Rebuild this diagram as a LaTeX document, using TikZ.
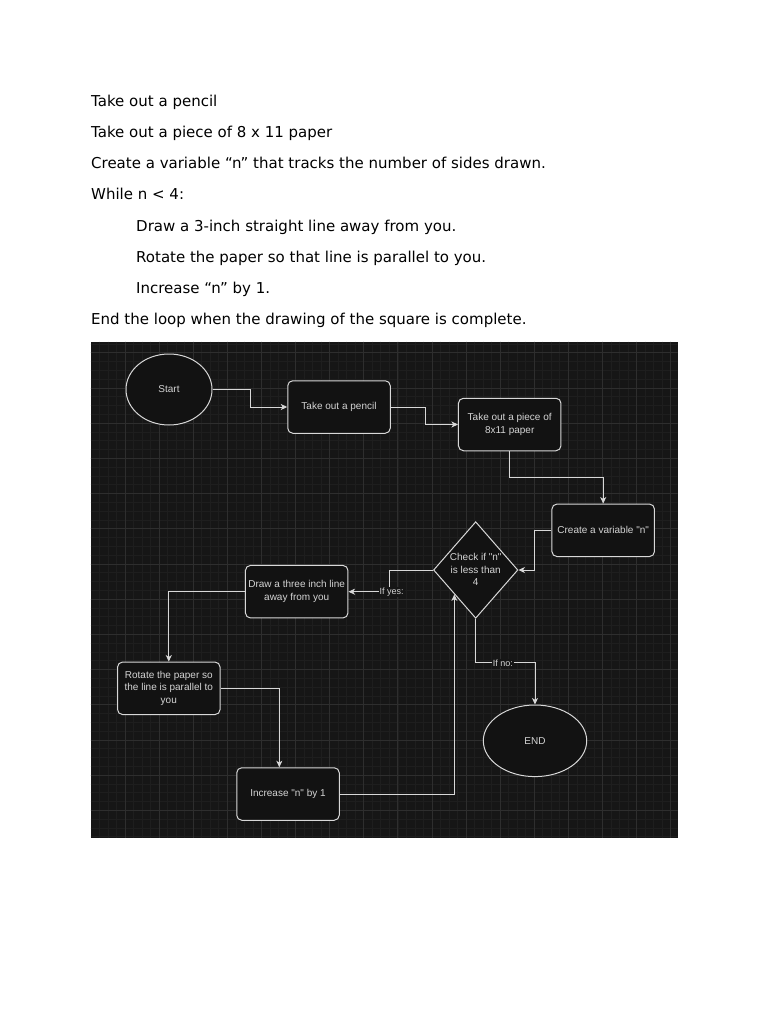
\documentclass[tikz,border=0pt]{standalone}
\usepackage{fontspec}
\setmainfont{DejaVu Sans}
\newfontfamily\dfont{Liberation Sans}
\usetikzlibrary{arrows.meta,shapes.geometric}
\definecolor{bgc}{HTML}{161616}
\definecolor{minorc}{HTML}{1E1E1E}
\definecolor{majorc}{HTML}{2E2E2E}
\definecolor{boxc}{HTML}{121212}
\definecolor{edgec}{HTML}{D8D8D8}
\definecolor{txtc}{HTML}{D4D4D4}
\begin{document}
\begin{tikzpicture}[x=1pt,y=-1pt,
  doc/.style={anchor=base west, inner sep=0pt, font=\fontsize{15}{18}\selectfont, text=black},
  box/.style={draw=edgec, fill=boxc, rounded corners=5pt, line width=1pt, minimum width=102.5pt, minimum height=52.5pt, align=center, text=txtc, font=\dfont\fontsize{10}{12.8}\selectfont, inner sep=1pt},
  term/.style={ellipse, draw=edgec, fill=boxc, line width=1pt, text=txtc, font=\dfont\fontsize{10}{12.8}\selectfont, inner sep=0pt},
  dec/.style={diamond, draw=edgec, fill=boxc, line width=1pt, minimum width=84.4pt, minimum height=96.6pt, inner sep=0pt},
  dtext/.style={align=center, text=txtc, font=\dfont\fontsize{10}{12.7}\selectfont, inner sep=0pt},
  flow/.style={draw=edgec, line width=0.9pt, -{Stealth[length=6.5pt,width=6pt,inset=1.8pt]}},
  lbl/.style={fill=bgc, text=txtc, font=\dfont\fontsize{9}{10}\selectfont, inner sep=1pt}]
\useasboundingbox (0,0) rectangle (768,1024);
\fill[white] (0,0) rectangle (768,1024);
% text above
\node[doc] (t1) at (91,106.7) {Take out a pencil};
\node[doc] (t2) at (91,137.8) {Take out a piece of 8 x 11 paper};
\node[doc] (t3) at (91,168.9) {Create a variable “n” that tracks the number of sides drawn.};
\node[doc] (t4) at (91,200) {While n < 4:};
\node[doc] (t5) at (136,231.1) {Draw a 3-inch straight line away from you.};
\node[doc] (t6) at (136,262.2) {Rotate the paper so that line is parallel to you.};
\node[doc] (t7) at (136,293.3) {Increase “n” by 1.};
\node[doc] (t8) at (91,324.4) {End the loop when the drawing of the square is complete.};
% diagram background and grid
\fill[bgc] (90.5,341.7) rectangle (677.5,838);
\begin{scope}
\clip (90.5,341.7) rectangle (677.5,838);
\foreach \k in {1,...,68} {
  \pgfmathsetmacro{\xx}{90.9+8.525*\k}
  \draw[minorc, line width=0.6pt] (\xx,341.7) -- (\xx,838);
}
\foreach \j in {-1,...,55} {
  \pgfmathsetmacro{\yy}{352.7+8.8*\j}
  \draw[minorc, line width=0.6pt] (90.5,\yy) -- (677.5,\yy);
}
\foreach \k in {1,...,17} {
  \pgfmathsetmacro{\xx}{90.9+34.1*\k}
  \draw[majorc, line width=0.8pt] (\xx,341.7) -- (\xx,838);
}
\foreach \j in {0,...,13} {
  \pgfmathsetmacro{\yy}{352.7+35.2*\j}
  \draw[majorc, line width=0.8pt] (90.5,\yy) -- (677.5,\yy);
}
\end{scope}
% nodes
\node[term, minimum width=86pt, minimum height=71pt] (start) at (169,389.5) {Start};
\node[box] (pencil) at (339,407) {Take out a pencil};
\node[box] (paper) at (509.7,424.5) {Take out a piece of\\8x11 paper};
\node[box] (var) at (603.2,530.3) {Create a variable "n"};
\node[dec] (d) at (475.7,570) {};
\node[dtext] (dt) at (475.7,569.5) {Check if "n"\\is less than\\4};
\node[box] (draw) at (296.7,591.7) {Draw a three inch line\\away from you};
\node[box] (rot) at (168.8,688.3) {Rotate the paper so\\the line is parallel to\\you};
\node[box] (inc) at (288,794) {Increase "n" by 1};
\node[term, minimum width=103.4pt, minimum height=71.6pt] (end) at (535,740.8) {END};
% connectors
\draw[flow] (start.east) -- ++(38.3,0) |- (pencil.west);
\draw[flow] (pencil.east) -- ++(35,0) |- (paper.west);
\draw[flow] (paper.south) -- ++(0,26.6) -| (var.north);
\draw[flow] (var.west) -- ++(-17.3,0) |- (d.east);
\draw[flow] (d.west) -- ++(-43.3,0) |- node[lbl, xshift=2pt]{If yes:} (draw.east);
\draw[flow] (draw.west) -| (rot.north);
\draw[flow] (rot.east) -| ([xshift=-8.7pt]inc.north);
\draw[flow] (inc.east) -| (d.south west);
\draw[flow] (d.south) -- ++(0,44) -| node[lbl, pos=0.23]{If no:} (end.north);
\end{tikzpicture}
\end{document}
